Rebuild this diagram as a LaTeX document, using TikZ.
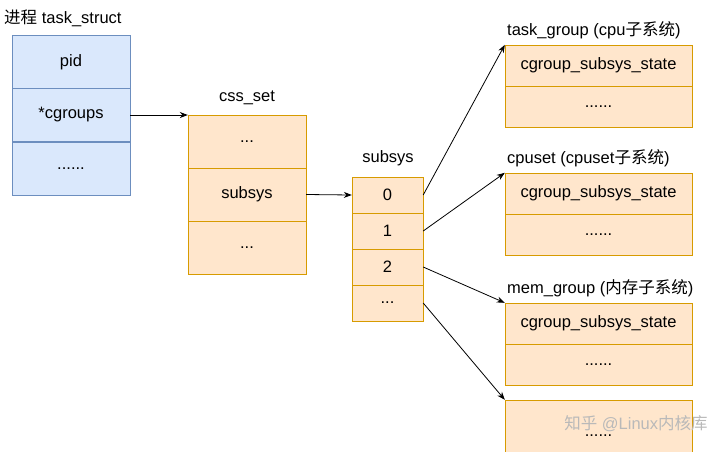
\documentclass[tikz,border=0pt]{standalone}
\usepackage{fontspec}
\setmainfont{Liberation Sans}
\newfontfamily\cjk{Noto Sans CJK SC}
\usetikzlibrary{arrows.meta}
\definecolor{bf}{HTML}{DAE8FC}\definecolor{bd}{HTML}{6C8EBF}
\definecolor{of}{HTML}{FFE6CC}\definecolor{od}{HTML}{D79B00}
\begin{document}
\begin{tikzpicture}[x=1pt,y=-1pt,font=\fontsize{16.5}{19}\selectfont,
  blue/.style={draw=bd,fill=bf,minimum width=118pt,minimum height=53pt,inner sep=0pt},
  org/.style={draw=od,fill=of,minimum width=118pt,minimum height=53pt,inner sep=0pt},
  sub/.style={draw=od,fill=of,minimum width=71pt,minimum height=36pt,inner sep=0pt},
  big/.style={draw=od,fill=of,minimum width=187pt,minimum height=41pt,inner sep=0pt},
  lab/.style={inner sep=0pt},
  arr/.style={-{Stealth[length=8pt,width=6pt]},line width=0.8pt}]
\useasboundingbox (0,0) rectangle (720,451);
% task_struct
\node[lab,anchor=west] (tl) at (4,18) {{\cjk 进程} task\_struct};
\node[blue] (pid) at (71,62) {pid};
\node[blue] (cg) at (71,115) {*cgroups};
\node[blue] (td) at (71,168.5) {......};
% css_set
\node[lab] (cl) at (247,98) {css\_set};
\node[org] (c1) at (247,141.5) {...};
\node[org] (c2) at (247,194.5) {subsys};
\node[org] (c3) at (247,247.5) {...};
% subsys
\node[lab] (sl) at (388,158) {subsys};
\node[sub] (s0) at (387.5,195) {0};
\node[sub] (s1) at (387.5,231) {1};
\node[sub] (s2) at (387.5,267) {2};
\node[sub] (s3) at (387.5,303) {...};
% right
\node[lab,anchor=west] (g1) at (507,30) {task\_group (cpu{\cjk 子系统})};
\node[big] (a1) at (598.5,65.5) {cgroup\_subsys\_state};
\node[big] (a2) at (598.5,106.5) {......};
\node[lab,anchor=west] (g2) at (507,158) {cpuset (cpuset{\cjk 子系统})};
\node[big] (b1) at (598.5,193.5) {cgroup\_subsys\_state};
\node[big] (b2) at (598.5,234.5) {......};
\node[lab,anchor=west] (g3) at (507,288) {mem\_group ({\cjk 内存子系统})};
\node[big] (d1) at (598.5,323.5) {cgroup\_subsys\_state};
\node[big] (d2) at (598.5,364.5) {......};
\node[big,minimum height=60pt] (e1) at (598.5,430) {};
\node[lab] (e1t) at (598.5,436) {......};
\node[lab,text=gray!55] (wm) at (636,424) {{\cjk 知乎} @Linux{\cjk 内核库}};
% arrows
\draw[arr] (cg.east) -- (c1.west|-cg.east);
\draw[arr] (c2.east) -- (s0.west);
\draw[arr] (s0.east) -- (a1.north west);
\draw[arr] (s1.east) -- (b1.north west);
\draw[arr] (s2.east) -- (d1.north west);
\draw[arr] (s3.east) -- (e1.north west);
\end{tikzpicture}
\end{document}
